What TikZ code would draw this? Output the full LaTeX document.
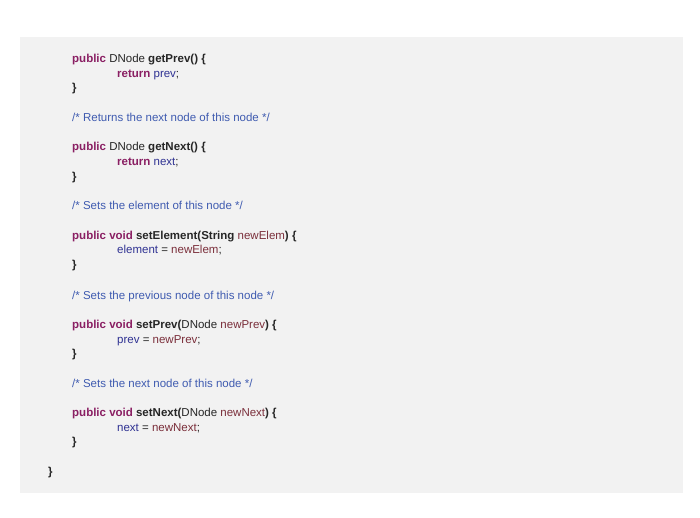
\documentclass[tikz,border=0pt]{standalone}
\usepackage{fontspec}
\setmainfont{Liberation Sans}
\definecolor{kw}{HTML}{8A1F63}
\definecolor{fld}{HTML}{2E3192}
\definecolor{prm}{HTML}{7A2E3A}
\definecolor{cmt}{HTML}{3F5BB0}
\definecolor{bg}{HTML}{F2F2F2}
\newcommand{\kwd}[1]{\textbf{\textcolor{kw}{#1}}}
\newcommand{\fdv}[1]{\textcolor{fld}{#1}}
\newcommand{\prv}[1]{\textcolor{prm}{#1}}
\tikzset{codeline/.style={anchor=base west,inner sep=0pt,font=\fontsize{11.5}{13}\selectfont,text=black!85},
cmtline/.style={codeline,text=cmt}}
\begin{document}
\begin{tikzpicture}[x=1pt,y=-1pt]
\useasboundingbox (0,0) rectangle (700,518);
\fill[bg] (20,37) rectangle (683,493);
\node[codeline] (l1) at (72,63) {\kwd{public} DNode \textbf{getPrev() \{}};
\node[codeline] (l2) at (117,78) {\kwd{return} \fdv{prev};};
\node[codeline] (l3) at (72,92) {\textbf{\}}};
\node[cmtline] (c1) at (72,122) {/* Returns the next node of this node */};
\node[codeline] (l4) at (72,151) {\kwd{public} DNode \textbf{getNext() \{}};
\node[codeline] (l5) at (117,166) {\kwd{return} \fdv{next};};
\node[codeline] (l6) at (72,181) {\textbf{\}}};
\node[cmtline] (c2) at (72,210) {/* Sets the element of this node */};
\node[codeline] (l7) at (72,240) {\kwd{public void} \textbf{setElement(String} \prv{newElem}\textbf{) \{}};
\node[codeline] (l8) at (117,254) {\fdv{element} = \prv{newElem};};
\node[codeline] (l9) at (72,269) {\textbf{\}}};
\node[cmtline] (c3) at (72,299) {/* Sets the previous node of this node */};
\node[codeline] (l10) at (72,328) {\kwd{public void} \textbf{setPrev(}DNode \prv{newPrev}\textbf{) \{}};
\node[codeline] (l11) at (117,343) {\fdv{prev} = \prv{newPrev};};
\node[codeline] (l12) at (72,357) {\textbf{\}}};
\node[cmtline] (c4) at (72,387) {/* Sets the next node of this node */};
\node[codeline] (l13) at (72,416) {\kwd{public void} \textbf{setNext(}DNode \prv{newNext}\textbf{) \{}};
\node[codeline] (l14) at (117,431) {\fdv{next} = \prv{newNext};};
\node[codeline] (l15) at (72,445) {\textbf{\}}};
\node[codeline] (l16) at (48,475) {\textbf{\}}};
\end{tikzpicture}
\end{document}
